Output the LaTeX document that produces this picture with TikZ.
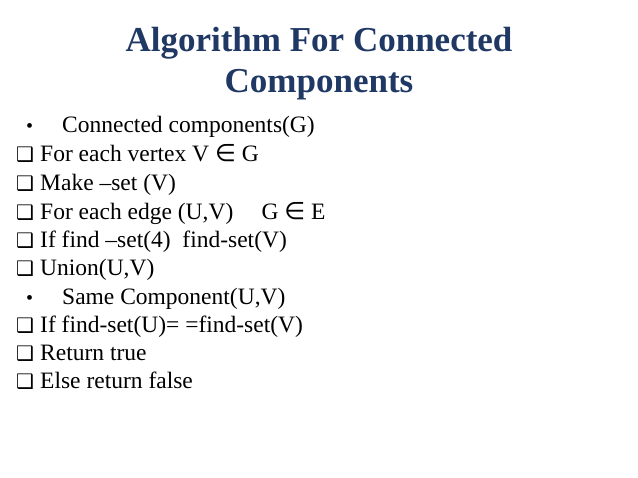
\documentclass[tikz,border=0pt]{standalone}
\usepackage{fontspec}
\setmainfont{Liberation Serif}
\newfontfamily\djfont{DejaVu Sans}
\definecolor{ttl}{HTML}{1F3864}
\begin{document}
\begin{tikzpicture}[x=1pt,y=1pt,
  ttlstyle/.style={font=\fontsize{35}{40}\selectfont\bfseries,text=ttl,anchor=base},
  body/.style={font=\fontsize{23.5}{28}\selectfont,anchor=base west,inner sep=0pt},
  mk/.style={font=\fontsize{20}{24}\selectfont,anchor=base west,inner sep=0pt}]
\useasboundingbox (0,0) rectangle (638,-478);
\node[ttlstyle] (t1) at (319,-52) {Algorithm For Connected};
\node[ttlstyle] (t2) at (319,-93) {Components};
\def\bul#1#2#3{\node[mk] (m#1) at (26,#2) {\textbullet}; \node[body] (l#1) at (62,#2) {#3};}
\def\chk#1#2#3{\node[mk] (m#1) at (16,#2) {\djfont ❑}; \node[body] (l#1) at (40,#2) {#3};}
\bul{1}{-133}{Connected components(G)}
\chk{2}{-162}{For each vertex V {\djfont\fontsize{24}{24}\selectfont ∈} G}
\chk{3}{-191}{Make –set (V)}
\chk{4}{-220}{For each edge (U,V)\hspace{1.2em}G {\djfont\fontsize{24}{24}\selectfont ∈} E}
\chk{5}{-248}{If find –set(4)\ \ find-set(V)}
\chk{6}{-276}{Union(U,V)}
\bul{7}{-305}{Same Component(U,V)}
\chk{8}{-333}{If find-set(U)= =find-set(V)}
\chk{9}{-361}{Return true}
\chk{10}{-389}{Else return false}
\end{tikzpicture}
\end{document}
